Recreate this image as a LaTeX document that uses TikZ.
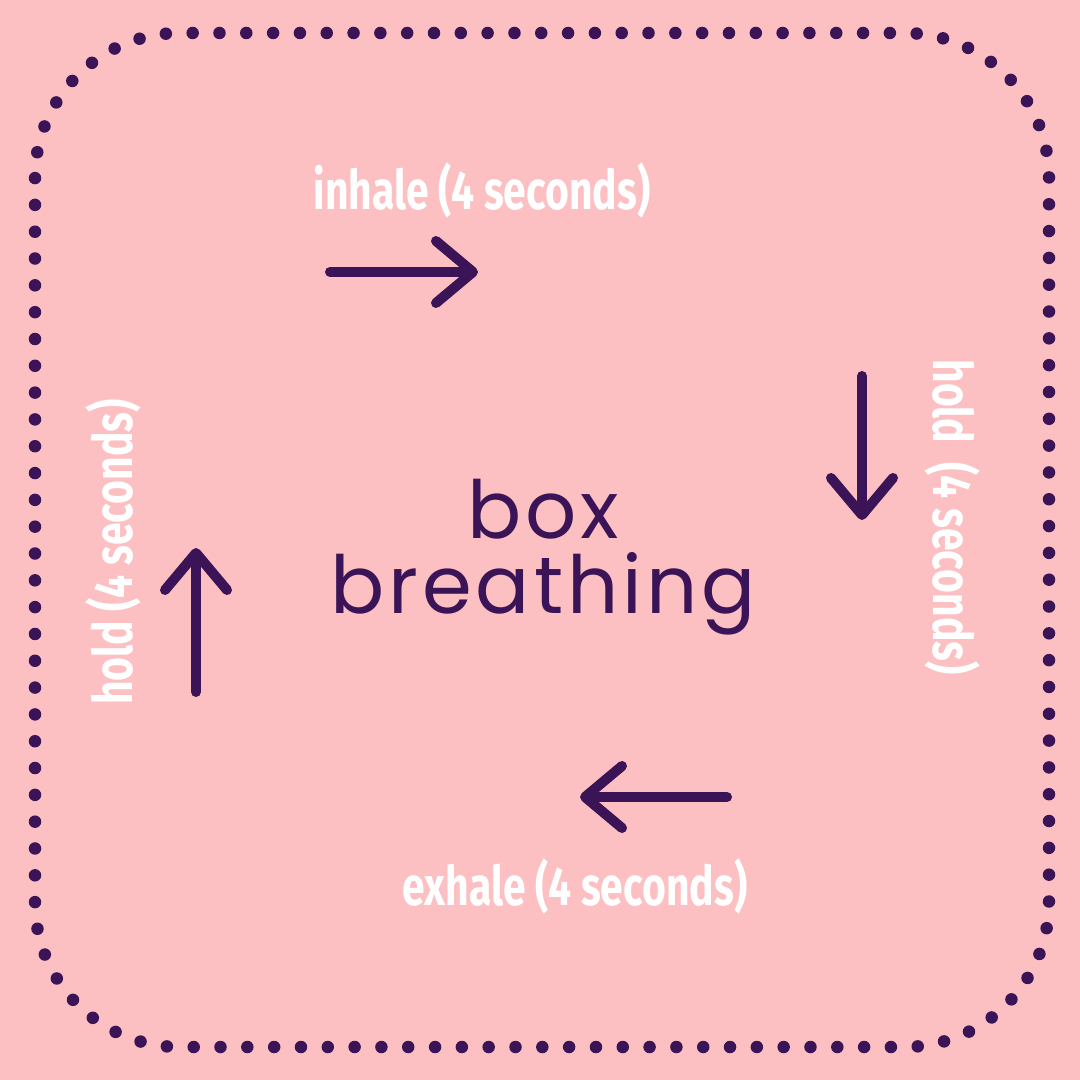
\documentclass[tikz,border=0pt]{standalone}
\usepackage{fontspec}
\setmainfont{Poppins}[LetterSpace=5]
\newfontfamily\labelfont[FakeStretch=0.75]{Fira Sans}
\usetikzlibrary{arrows.meta}
\definecolor{blush}{RGB}{253,192,194}
\definecolor{plum}{RGB}{58,20,86}

\begin{document}
\begin{tikzpicture}[x=0.01cm,y=-0.01cm]

\tikzstyle{every node}=[inner sep=0pt]
\tikzstyle{breath}=[font=\labelfont\bfseries\fontsize{15.5}{18}\selectfont, text=white]
\tikzstyle{flow}=[plum, line width=0.1cm, line cap=round,
  -{Straight Barb[length=0.37cm, width=0.62cm, line join=round, line cap=round]}]
\tikzstyle{dotline}=[plum, line width=0.125cm, line cap=round,
  dash pattern=on 0pt off 0.268cm, rounded corners=1.45cm]

% background
    \fill[blush] (0,0) rectangle (1080,1080);
% dotted frame
    \draw[dotline] (35,33) rectangle (1049,1047);

% title
    \node[plum, align=center, font=\fontsize{22.8}{21.3}\selectfont] (title) at (543,557) {box\\breathing};

% the four steps
    \node[breath, anchor=base] (inhale) at (482,210) {inhale (4 seconds)};
    \node[breath, rotate=-90] (holdfull) at (953,517) {hold~ (4 seconds)};
    \node[breath, anchor=base] (exhale) at (575,905) {exhale (4 seconds)};
    \node[breath, rotate=90] (holdempty) at (113,552) {hold (4 seconds)};

% arrow ends
    \coordinate (in1) at (330,272);   \coordinate (in2) at (478,272);
    \coordinate (hf1) at (862,376);   \coordinate (hf2) at (862,520);
    \coordinate (ex1) at (727,797);   \coordinate (ex2) at (580,797);
    \coordinate (he1) at (196,692);   \coordinate (he2) at (196,548);

% arrows
    \draw[flow] (in1) -- (in2);
    \draw[flow] (hf1) -- (hf2);
    \draw[flow] (ex1) -- (ex2);
    \draw[flow] (he1) -- (he2);
\end{tikzpicture}
\end{document}
